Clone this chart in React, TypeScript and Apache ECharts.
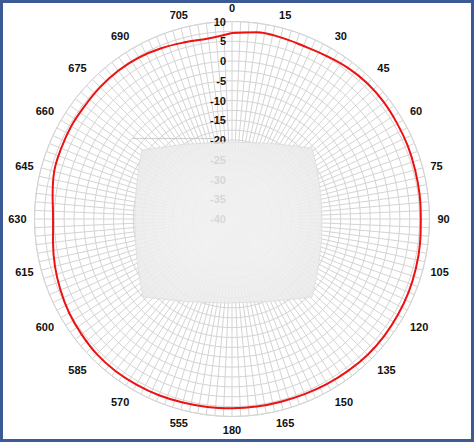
import { useEffect, useRef } from "react";
import * as echarts from "echarts";

// angle (deg, 0 at top, clockwise) and gain (dB)
const angles = [0, 7.5, 15, 22.5, 30, 37.5, 45, 52.5, 60, 67.5, 75, 82.5, 90, 97.5, 105, 112.5, 120, 127.5, 135, 142.5, 150, 157.5, 165, 172.5, 180, 187.5, 195, 202.5, 210, 217.5, 225, 232.5, 240, 247.5, 255, 262.5, 270, 277.5, 285, 292.5, 300, 307.5, 315, 322.5, 330, 337.5, 345, 352.5, 360];
const gains = [7.1, 7.7, 7.6, 7.4, 7.7, 8.2, 8.5, 8.5, 8.3, 8.2, 8.0, 7.9, 7.8, 8.0, 8.2, 8.4, 8.5, 8.6, 8.6, 8.4, 8.2, 8.0, 7.9, 7.9, 7.9, 8.0, 8.1, 8.3, 8.4, 8.5, 8.4, 8.0, 7.6, 7.0, 6.4, 5.7, 5.3, 5.8, 6.6, 6.8, 7.0, 7.0, 7.2, 7.3, 7.2, 6.8, 6.3, 6.1, 7.1];

const radiusMin = -40;
const radiusMax = 10;
const radiusStep = 5;
const angleStep = 15;

const labelFont = { color: "#111", fontSize: 11, fontWeight: "bold" as const, fontFamily: "Liberation Sans, Arial, sans-serif" };
const gridColor = "#d4d4d4";

echarts.graphic.registerShape(
  "pillow",
  echarts.graphic.extendPath("M9 12 Q94 -3 179 10 Q199 84 179 159 Q94 171 10 159 Q-6 84 9 12 Z", {}) as any
);

export default function App() {
  const chartRef = useRef<HTMLDivElement>(null);

  useEffect(() => {
    if (!chartRef.current) return;
    const chart = echarts.init(chartRef.current, null, { renderer: "svg" });

    const option: any = {
      animation: false,
      backgroundColor: "#fff",
      polar: { center: [232, 219], radius: 197.5 },
      angleAxis: {
        type: "value",
        min: 0,
        max: 360,
        interval: angleStep,
        startAngle: 90,
        clockwise: true,
        axisLine: { show: true, lineStyle: { color: gridColor, width: 1 } },
        axisTick: { show: false },
        axisLabel: {
          ...labelFont,
          margin: 8,
          formatter: (v: number) => (v >= 360 ? "" : v > 180 ? String(v + 360) : String(v)),
        },
        splitLine: { show: true, lineStyle: { color: gridColor, width: 1 } },
        minorTick: { show: false, splitNumber: 6 },
        minorSplitLine: { show: true, lineStyle: { color: gridColor, width: 1 } },
      },
      radiusAxis: {
        type: "value",
        min: radiusMin,
        max: radiusMax,
        interval: radiusStep,
        axisLine: { show: false },
        axisTick: { show: false },
        axisLabel: { ...labelFont, margin: 6 },
        splitLine: { show: true, lineStyle: { color: gridColor, width: 1 } },
        minorTick: { show: false, splitNumber: 2 },
        minorSplitLine: { show: true, lineStyle: { color: gridColor, width: 1 } },
      },
      series: [
        {
          type: "line",
          coordinateSystem: "polar",
          data: angles.map((a, i) => [gains[i], a]),
          smooth: 0.4,
          showSymbol: false,
          lineStyle: { color: "#ee1111", width: 2 },
          z: 5,
        },
      ],
      graphic: [
        {
          type: "pillow",
          x: 133,
          y: 138,
          z: 100,
          style: {
            fill: new echarts.graphic.RadialGradient(0.5, 0.5, 0.7, [
              { offset: 0, color: "rgba(246,246,246,0.86)" },
              { offset: 1, color: "rgba(232,232,232,0.9)" },
            ]),
            stroke: "rgba(220,220,220,0.8)",
            lineWidth: 1,
          },
        },
        {
          type: "line",
          z: 100,
          shape: { x1: 133, y1: 138.5, x2: 215, y2: 138.5 },
          style: { stroke: "#cdcdcd", lineWidth: 1 },
        },
        {
          type: "rect",
          z: 110,
          shape: { x: 1.5, y: 1.5, width: 471, height: 439 },
          style: { fill: "none", stroke: "#3b5a96", lineWidth: 3 },
        },
      ],
    };

    chart.setOption(option);
    return () => chart.dispose();
  }, []);

  return (
    <div
      ref={chartRef}
      style={{ position: "fixed", left: 0, top: 0, width: 474, height: 442 }}
    />
  );
}
